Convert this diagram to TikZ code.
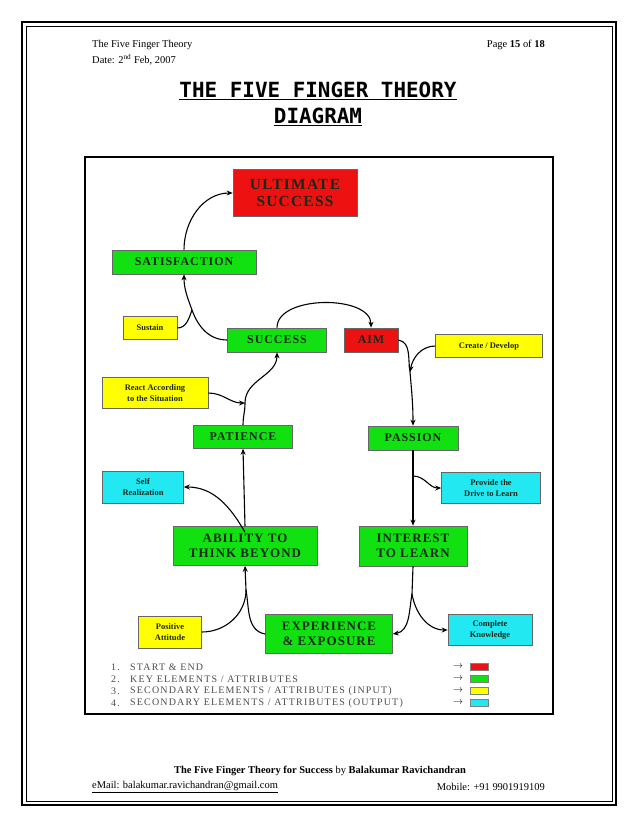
\documentclass[tikz,border=0pt]{standalone}
\usepackage{fontspec}
\setmainfont{Liberation Serif}
\newfontfamily\monof{DejaVu Sans Mono}
\newfontfamily\wide[LetterSpace=8]{Liberation Serif}
\newfontfamily\wider[LetterSpace=12]{Liberation Serif}
\usetikzlibrary{arrows.meta}
\definecolor{cred}{HTML}{EE1111}
\definecolor{cgreen}{HTML}{11E011}
\definecolor{cyel}{HTML}{FFFF00}
\definecolor{ccyan}{HTML}{22E8F2}
\definecolor{ctext}{HTML}{1A2A1A}
\tikzset{
  box/.style={draw=black!60,line width=0.6bp,inner sep=0,align=center,text=ctext},
  kbox/.style={box,fill=cgreen,font=\wide\fontsize{12}{14}\selectfont\bfseries},
  bbox/.style={box,fill=cgreen,font=\wide\fontsize{13}{15.5}\selectfont\bfseries},
  sbox/.style={box,font=\fontsize{8.5}{11}\selectfont\bfseries},
  con/.style={line width=1.1bp,-{Stealth[length=6bp,width=5bp]}},
  conn/.style={line width=1.1bp},
  leg/.style={anchor=west,font=\wider\fontsize{10}{10}\selectfont,text=black!70,inner sep=0}
}
\begin{document}
\begin{tikzpicture}[x=1bp,y=-1bp]
\useasboundingbox (0,0) rectangle (638,826);
\fill[white] (0,0) rectangle (638,826);
% page border
\draw[line width=2.2bp] (22,22) rectangle (616,805);
\draw[line width=0.5bp] (26,26) rectangle (612,801);
% header
\node[anchor=west,inner sep=0,font=\fontsize{10.5}{12}\selectfont] (h1) at (92,45) {The Five Finger Theory};
\node[anchor=west,inner sep=0,font=\fontsize{10.5}{12}\selectfont] (h2) at (92,60) {Date: 2\textsuperscript{nd} Feb, 2007};
\node[anchor=east,inner sep=0,font=\fontsize{10.5}{12}\selectfont] (h3) at (545,45) {Page \textbf{15} of \textbf{18}};
\node[inner sep=0,font=\monof\fontsize{21}{24}\selectfont\bfseries] (t1) at (318,91) {\underline{THE FIVE FINGER THEORY}};
\node[inner sep=0,font=\monof\fontsize{21}{24}\selectfont\bfseries] (t2) at (318,117) {\underline{DIAGRAM}};
% diagram frame
\draw[line width=2.5bp] (85,157) rectangle (553,714);
% nodes
\node[box,fill=cred,minimum width=124bp,minimum height=47bp,font=\wide\fontsize{15.5}{18}\selectfont\bfseries] (us) at (295,193) {ULTIMATE\\SUCCESS};
\node[kbox,minimum width=144bp,minimum height=24bp] (sat) at (184,262) {SATISFACTION};
\node[sbox,fill=cyel,minimum width=54bp,minimum height=23bp] (sus) at (150,328) {Sustain};
\node[kbox,minimum width=99bp,minimum height=24bp] (suc) at (277,340) {SUCCESS};
\node[box,fill=cred,minimum width=54bp,minimum height=24bp,font=\wide\fontsize{12}{14}\selectfont\bfseries] (aim) at (371,340) {AIM};
\node[sbox,fill=cyel,minimum width=107bp,minimum height=23bp] (cre) at (489,346) {Create / Develop};
\node[sbox,fill=cyel,minimum width=106bp,minimum height=31bp] (rea) at (155,393) {React According\\to the Situation};
\node[kbox,minimum width=99bp,minimum height=23bp] (pat) at (243,437) {PATIENCE};
\node[kbox,minimum width=90bp,minimum height=24bp] (pas) at (413,438) {PASSION};
\node[sbox,fill=ccyan,minimum width=81bp,minimum height=32bp] (self) at (143,487) {Self\\Realization};
\node[sbox,fill=ccyan,minimum width=99bp,minimum height=31bp] (pro) at (491,488) {Provide the\\Drive to Learn};
\node[bbox,minimum width=144bp,minimum height=39bp] (abi) at (245,546) {ABILITY TO\\THINK BEYOND};
\node[bbox,minimum width=108bp,minimum height=40bp] (int) at (413,546) {INTEREST\\TO LEARN};
\node[sbox,fill=cyel,minimum width=63bp,minimum height=32bp] (pos) at (170,632) {Positive\\Attitude};
\node[bbox,minimum width=127bp,minimum height=39bp] (exp) at (329,634) {EXPERIENCE\\\& EXPOSURE};
\node[sbox,fill=ccyan,minimum width=84bp,minimum height=31bp] (com) at (490,630) {Complete\\Knowledge};
% junctions
\coordinate (j1) at (192,310);
\coordinate (j2) at (410,372);
\coordinate (j3) at (245,403);
\coordinate (j4) at (413,476);
\coordinate (j5) at (246,590);
\coordinate (j6) at (412,594);
% connectors
\draw[con] (sat.north) to[out=90,in=180] (us.west);
\draw[conn] (suc.west) to[out=180,in=-70] (j1);
\draw[con] (j1) to[out=110,in=-90] (sat.south);
\draw[conn] (sus.east) to[out=0,in=-110] (j1);
\draw[con] (suc.north) to[out=90,in=90,looseness=0.9] (aim.north);
\draw[conn] (aim.east) to[out=-10,in=100] (j2);
\draw[con] (j2) to[out=-85,in=90] (pas.north);
\draw[con] (cre.west) to[out=180,in=80] (j2);
\draw[conn] (pat.north) to[out=90,in=-90] (j3);
\draw[con] (j3) to[out=90,in=-90] (suc.south);
\draw[con] (rea.east) to[out=0,in=180] (j3);
\draw[con] (abi.north) -- (pat.south);
\draw[con] ([yshift=-6bp]abi.north) to[out=120,in=0] (self.east);
\draw[con] (pas.south) -- (int.north);
\draw[con] (j4) to[out=0,in=180] (pro.west);
\draw[conn] (exp.west) to[out=170,in=-80] (j5);
\draw[con] (j5) -- (abi.south);
\draw[conn] (pos.east) to[out=0,in=-90] (j5);
\draw[conn] (int.south) -- (j6);
\draw[con] (j6) to[out=-100,in=10] (exp.east);
\draw[con] (j6) to[out=-80,in=180] (com.west);
% legend
\foreach \i/\t/\c in {1/{START \& END}/cred,2/{KEY ELEMENTS / ATTRIBUTES}/cgreen,3/{SECONDARY ELEMENTS / ATTRIBUTES (INPUT)}/cyel,4/{SECONDARY ELEMENTS / ATTRIBUTES (OUTPUT)}/ccyan}{
  \node[leg] (ln\i) at (111,655+12*\i) {\i.};
  \node[leg] (lt\i) at (130,655+12*\i) {\t};
  \node[leg,text=black,font=\fontsize{10}{10}\selectfont] (la\i) at (453,655+12*\i) {$\rightarrow$};
  \node[draw=black!50,fill=\c,minimum width=18bp,minimum height=7bp,inner sep=0] (lb\i) at (479,655+12*\i) {};
}
% footer
\node[inner sep=0,font=\fontsize{10.5}{12}\selectfont] (f1) at (320,771) {\textbf{The Five Finger Theory for Success} by \textbf{Balakumar Ravichandran}};
\node[anchor=west,inner sep=0,font=\fontsize{10.5}{12}\selectfont] (f2) at (92,787) {\underline{eMail: balakumar.ravichandran@gmail.com}};
\node[anchor=east,inner sep=0,font=\fontsize{10.5}{12}\selectfont] (f3) at (545,787) {Mobile: +91 9901919109};
\end{tikzpicture}
\end{document}
